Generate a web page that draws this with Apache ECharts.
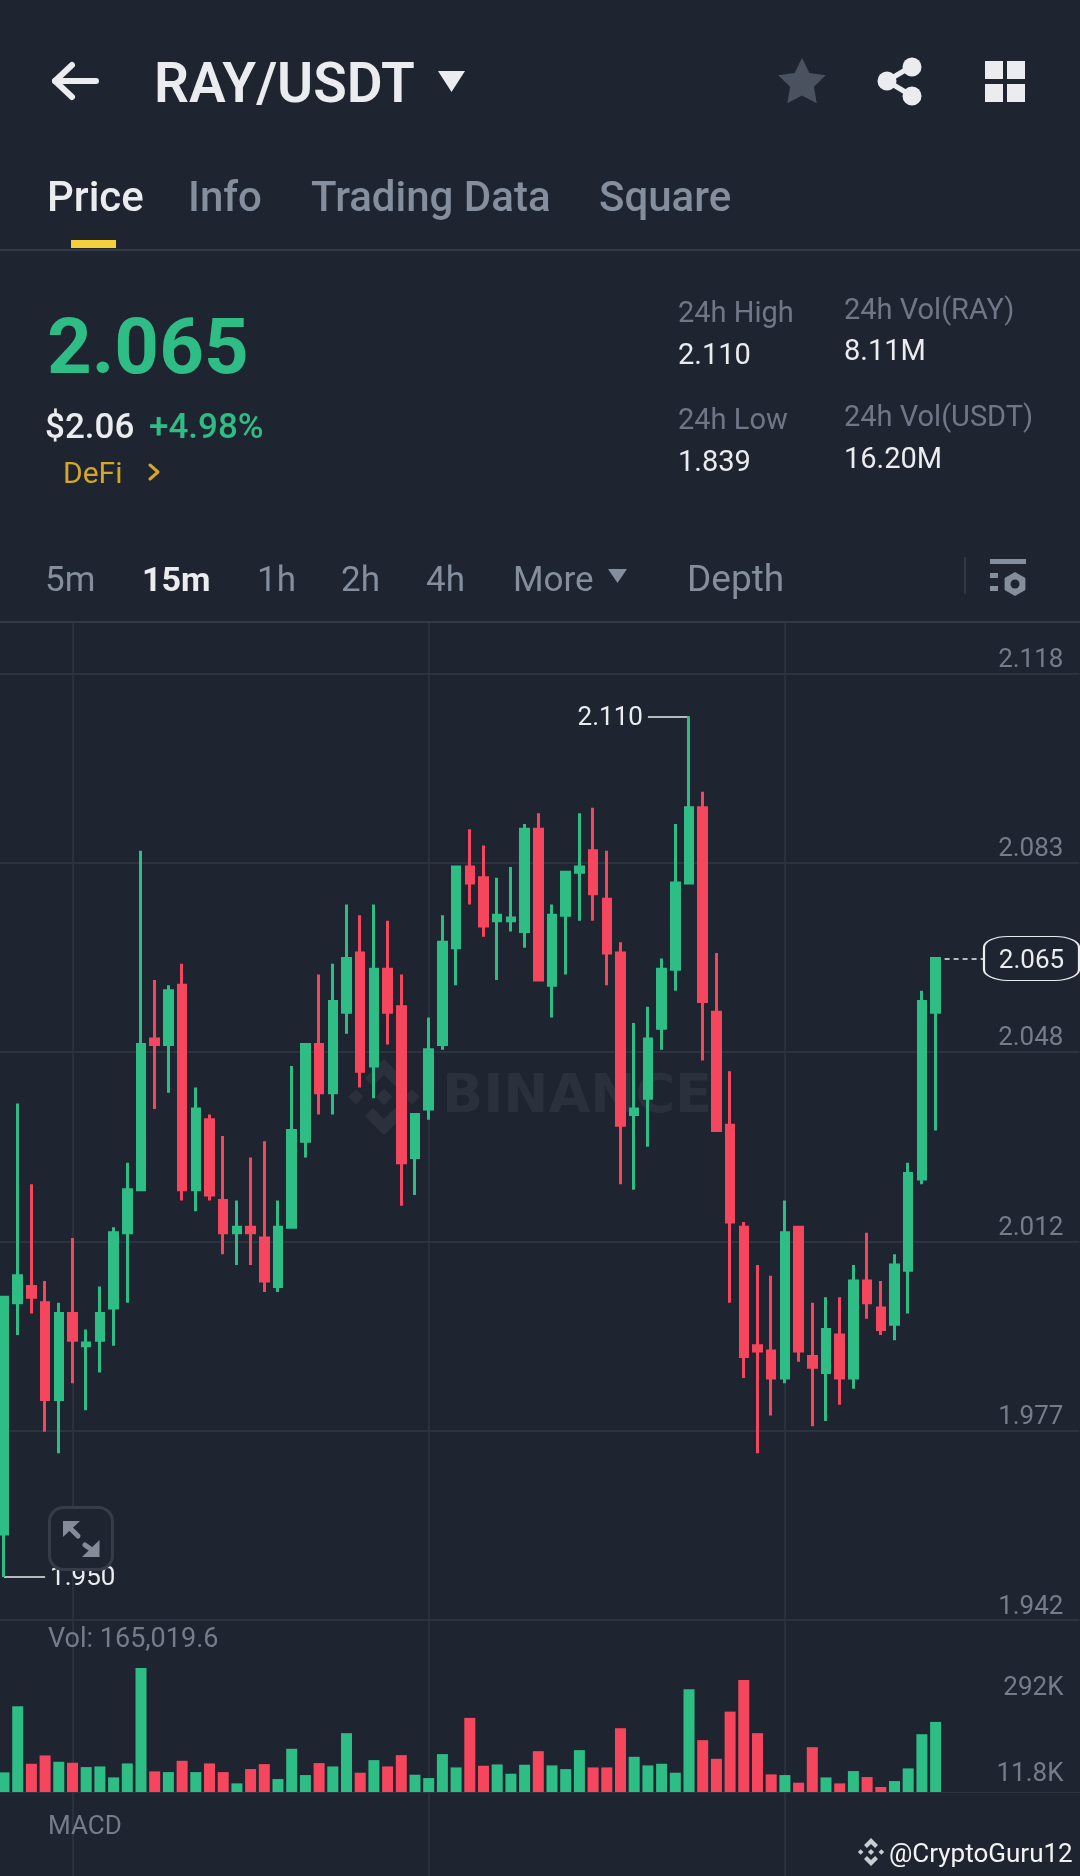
<!DOCTYPE html>
<html>
<head>
<meta charset="utf-8">
<style>
    html, body { margin: 0; padding: 0; background: #1f2530; }
    #chart { width: 1080px; height: 1876px; }
</style>
<script src="https://cdn.jsdelivr.net/npm/echarts@6/dist/echarts.min.js"></script>
</head>
<body>
<div id="chart"></div>
<script>
const opens = [1.958, 2.001, 2.004, 2.001, 1.983, 1.999, 1.993, 1.994, 2.000, 2.014, 2.022, 2.050, 2.049, 2.060, 2.022, 2.035, 2.020, 2.014, 2.015, 2.013, 2.004, 2.015, 2.031, 2.049, 2.040, 2.055, 2.066, 2.045, 2.063, 2.056, 2.028, 2.037, 2.049, 2.067, 2.082, 2.080, 2.072, 2.072, 2.070, 2.089, 2.060, 2.073, 2.081, 2.085, 2.076, 2.066, 2.036, 2.039, 2.052, 2.063, 2.079, 2.093, 2.055, 2.034, 2.015, 1.993, 1.992, 1.987, 2.015, 1.991, 1.988, 1.995, 1.987, 2.005, 2.000, 1.997, 2.007, 2.024, 2.055]
const closes = [2.002, 2.006, 2.002, 1.983, 1.999, 1.994, 1.9935, 1.999, 2.014, 2.022, 2.049, 2.049, 2.059, 2.022, 2.037, 2.021, 2.014, 2.015, 2.014, 2.005, 2.015, 2.033, 2.049, 2.040, 2.057, 2.065, 2.044, 2.063, 2.055, 2.027, 2.036, 2.048, 2.068, 2.082, 2.079, 2.071, 2.073, 2.0725, 2.089, 2.061, 2.073, 2.081, 2.082, 2.077, 2.066, 2.034, 2.037, 2.050, 2.063, 2.079, 2.093, 2.057, 2.033, 2.016, 1.991, 1.992, 1.987, 2.014, 1.992, 1.989, 1.996, 1.987, 2.005, 2.001, 1.996, 2.008, 2.025, 2.057, 2.065]
const lows = [1.950, 1.995, 1.999, 1.977, 1.973, 1.986, 1.981, 1.988, 1.993, 2.001, 2.022, 2.037, 2.040, 2.020, 2.018, 2.020, 2.010, 2.008, 2.008, 2.003, 2.003, 2.015, 2.028, 2.036, 2.036, 2.051, 2.041, 2.039, 2.049, 2.019, 2.021, 2.035, 2.048, 2.060, 2.075, 2.069, 2.061, 2.070, 2.067, 2.061, 2.054, 2.062, 2.072, 2.072, 2.060, 2.023, 2.022, 2.030, 2.048, 2.059, 2.079, 2.046, 2.033, 2.001, 1.987, 1.973, 1.980, 1.986, 1.990, 1.978, 1.979, 1.982, 1.985, 1.998, 1.995, 1.994, 1.999, 2.023, 2.033]
const highs = [2.002, 2.038, 2.023, 2.005, 2.001, 2.013, 1.996, 2.004, 2.015, 2.027, 2.085, 2.061, 2.060, 2.064, 2.041, 2.036, 2.032, 2.020, 2.028, 2.031, 2.020, 2.045, 2.049, 2.062, 2.064, 2.075, 2.073, 2.075, 2.072, 2.062, 2.036, 2.054, 2.073, 2.082, 2.089, 2.086, 2.080, 2.082, 2.090, 2.092, 2.075, 2.081, 2.092, 2.093, 2.085, 2.068, 2.053, 2.056, 2.065, 2.090, 2.110, 2.096, 2.066, 2.044, 2.016, 2.008, 2.006, 2.020, 2.015, 2.001, 2.002, 2.002, 2.008, 2.014, 2.005, 2.010, 2.027, 2.059, 2.065]
const volumes = [46200, 201900, 66500, 86100, 71200, 68900, 58700, 60200, 34400, 67300, 292000, 48500, 46900, 73500, 46900, 67300, 46900, 20300, 54000, 65700, 30500, 101700, 39900, 68100, 60200, 138500, 45400, 75100, 60200, 86800, 40700, 32900, 89200, 57900, 174500, 61800, 64900, 43000, 64200, 96200, 62600, 54000, 98600, 57900, 57900, 150200, 82900, 62600, 66500, 45400, 241800, 122100, 78200, 189300, 263700, 138500, 41500, 39900, 21900, 105600, 34400, 20300, 49300, 35200, 11800, 25800, 55600, 136100, 165019.6]

const priceMin = 1.942
const priceMax = 2.118
const priceStep = 0.0352
const volumeLabels = [11800, 292000]
const highIndex = 50
const lowIndex = 0
const gridCandles = [5, 31, 57]

const tabs = ['Price', 'Info', 'Trading Data', 'Square']
const intervals = ['5m', '15m', '1h', '2h', '4h', 'More', 'Depth']

const bg = '#1f2530'
const up = '#2ebd85'
const down = '#f6465d'
const white = '#eaecef'
const grey = '#848e9c'
const axisGrey = '#757c8a'
const line = '#323944'

const lastIndex = closes.length - 1
const lastPrice = closes[lastIndex]

// 79 slots wide, the chart leaves room on the right of the last candle
const slots = Array.from({length: 79}, (_, i) => String(i))
const wideSlots = Array.from({length: 80}, (_, i) => String(i))

const candleData = opens.map((o, i) => [o, closes[i], lows[i], highs[i]])
const volumeData = volumes.map((v, i) => ({
    value: v,
    itemStyle: {color: closes[i] >= opens[i] ? up : down}
}))

function text(str, x, y, size, fill, weight, extra) {
    return {
        type: 'text',
        z: 10,
        style: Object.assign({
            text: str, x: x, y: y, fill: fill,
            fontFamily: 'Roboto', fontSize: size, fontWeight: weight || 400,
            align: 'left', verticalAlign: 'middle'
        }, extra)
    }
}

function poly(points, fill, z) {
    return {type: 'polygon', z: z || 10, shape: {points: points}, style: {fill: fill}}
}

function stroke(points, color, width) {
    return {
        type: 'polyline', z: 10, shape: {points: points},
        style: {stroke: color, lineWidth: width, fill: null, lineCap: 'round', lineJoin: 'round'}
    }
}

function rect(x, y, w, h, fill) {
    return {type: 'rect', z: 10, shape: {x: x, y: y, width: w, height: h}, style: {fill: fill}}
}

function circle(cx, cy, r, fill) {
    return {type: 'circle', z: 10, shape: {cx: cx, cy: cy, r: r}, style: {fill: fill}}
}

function star(cx, cy, r, fill) {
    const pts = []
    for (let i = 0; i < 10; i++) {
        const rr = i % 2 ? r * 0.5 : r
        const a = -Math.PI / 2 + i * Math.PI / 5
        pts.push([cx + rr * Math.cos(a), cy + rr * Math.sin(a)])
    }
    return poly(pts, fill)
}

function hexagon(cx, cy, r, fill) {
    const pts = []
    for (let i = 0; i < 6; i++) {
        const a = -Math.PI / 2 + i * Math.PI / 3
        pts.push([cx + r * Math.cos(a), cy + r * Math.sin(a)])
    }
    return poly(pts, fill)
}

function logo(cx, cy, r, fill, z) {
    const p = (list) => poly(list.map(([x, y]) => [cx + x * r, cy + y * r]), fill, z)
    return [
        p([[0, -0.22], [0.22, 0], [0, 0.22], [-0.22, 0]]),
        p([[-0.74, -0.2], [-0.54, 0], [-0.74, 0.2], [-0.94, 0]]),
        p([[0.74, -0.2], [0.94, 0], [0.74, 0.2], [0.54, 0]]),
        p([[0, -1], [0.5, -0.5], [0.29, -0.29], [0, -0.58], [-0.29, -0.29], [-0.5, -0.5]]),
        p([[0, 1], [-0.5, 0.5], [-0.29, 0.29], [0, 0.58], [0.29, 0.29], [0.5, 0.5]])
    ]
}

const tabX = [47, 188, 311, 599]
const intervalX = [45, 142, 257, 341, 426, 513, 687]
const intervalSize = [35, 34, 35, 35, 35, 35, 37]

const chrome = [
    // watermark sits under the candles
    ...logo(384, 1097, 38, '#2a313c', 1),
    {
        type: 'text', z: 1,
        style: {
            text: 'BINANCE', x: 442, y: 1098, fill: '#2a313c', fontFamily: 'DejaVu Sans',
            fontSize: 54, fontWeight: 700, verticalAlign: 'middle'
        }
    },

    // top bar
    stroke([[72, 65], [55, 81], [72, 97]], white, 6),
    stroke([[55, 81], [96, 81]], white, 6),
    text('RAY/USDT', 154, 88, 55, white, 600),
    poly([[438, 71], [465, 71], [451.5, 92]], white),
    star(802, 83, 25, '#4a5260'),
    stroke([[912, 66], [887, 81], [912, 96]], white, 5),
    circle(912, 67, 9.5, white),
    circle(887, 81, 9.5, white),
    circle(912, 96, 9.5, white),
    rect(985, 61, 18, 18, white),
    rect(1007, 61, 18, 18, white),
    rect(985, 84, 18, 18, white),
    rect(1007, 84, 18, 18, white),

    // tabs
    ...tabs.map((t, i) => text(t, tabX[i], 200, 42, i === 0 ? white : grey, 500)),
    rect(71, 240, 45, 8, '#f5cf3a'),
    rect(0, 249, 1080, 2, line),

    // price block
    text('2.065', 47, 353, 78, up, 700),
    text('$2.06', 45, 429, 35, white, 500),
    text('+4.98%', 149, 429, 35, up, 500),
    text('DeFi', 63, 475, 30, '#d4a72c'),
    stroke([[150, 465], [158, 472], [150, 479]], '#d4a72c', 3),
    text('24h High', 678, 315, 29, '#6f7787'),
    text('2.110', 678, 357, 29, white),
    text('24h Vol(RAY)', 844, 312, 29, '#6f7787'),
    text('8.11M', 844, 353, 29, white),
    text('24h Low', 678, 422, 29, '#6f7787'),
    text('1.839', 678, 464, 29, white),
    text('24h Vol(USDT)', 844, 419, 29, '#6f7787'),
    text('16.20M', 844, 461, 29, white),

    // interval row
    ...intervals.map((t, i) => text(t, intervalX[i], 582, intervalSize[i], i === 1 ? white : grey, i === 1 ? 700 : 400)),
    poly([[608, 569], [627, 569], [617.5, 583]], grey),
    rect(964, 557, 2, 37, line),
    rect(990, 559, 36, 5, grey),
    rect(990, 573, 8, 5, grey),
    rect(990, 586, 8, 5, grey),
    hexagon(1015, 584, 12, grey),
    circle(1015, 584, 4.5, bg),
    rect(0, 621, 1080, 2, line),

    // expand button, it hides the top of the low label
    {
        type: 'rect', z: 10,
        shape: {x: 49.5, y: 1507.5, width: 63, height: 62, r: 14},
        style: {fill: bg, stroke: '#363d49', lineWidth: 3}
    },
    poly([[63, 1521], [80, 1521], [63, 1537]], '#858c99'),
    stroke([[70, 1528], [78, 1536]], '#858c99', 5),
    poly([[99.5, 1540], [99.5, 1557], [82, 1557]], '#858c99'),
    stroke([[85, 1545], [92, 1550]], '#858c99', 5),

    // indicator captions
    text('Vol: 165,019.6', 48, 1640, 27, axisGrey),
    text('MACD', 48, 1827, 26, axisGrey),

    // author tag
    ...logo(871, 1852, 14, '#c9ccd1'),
    text('@CryptoGuru12', 889, 1855, 26, '#f2f3f5')
]

const chart = echarts.init(document.getElementById('chart'))

chart.setOption({
    animation: false,
    backgroundColor: bg,
    graphic: chrome,
    grid: [
        {left: -2.85, top: 673.3, width: 1082.3, height: 946.7, outerBoundsMode: 'none'},
        {left: -2.85, top: 1668, width: 1082.3, height: 124, outerBoundsMode: 'none'},
        {left: 4, top: 623, width: 1082.3, height: 1253, outerBoundsMode: 'none'}
    ],
    xAxis: [
        {
            type: 'category', gridIndex: 0, data: slots,
            axisLine: {show: false}, axisTick: {show: false}, axisLabel: {show: false}
        },
        {
            type: 'category', gridIndex: 1, data: slots,
            axisLine: {lineStyle: {color: '#2f3641', width: 1}},
            axisTick: {show: false}, axisLabel: {show: false}
        },
        {
            // only here for the vertical grid lines, which run through all the panels
            type: 'category', gridIndex: 2, data: wideSlots, boundaryGap: false,
            axisLine: {show: false}, axisTick: {show: false}, axisLabel: {show: false},
            splitLine: {
                show: true,
                interval: (i) => gridCandles.includes(i),
                lineStyle: {color: '#2f3641', width: 1.5}
            }
        }
    ],
    yAxis: [
        {
            type: 'value', gridIndex: 0, position: 'right',
            min: priceMin, max: priceMax, interval: priceStep,
            axisLine: {show: false}, axisTick: {show: false},
            splitLine: {lineStyle: {color: '#323944', width: 1.5}},
            axisLabel: {
                inside: true, margin: 16, fontFamily: 'Roboto', fontSize: 26,
                color: axisGrey, verticalAlign: 'bottom',
                formatter: (v) => v.toFixed(3)
            }
        },
        {
            type: 'value', gridIndex: 1, position: 'right', min: 0, max: 292000,
            axisLine: {show: false}, axisTick: {show: false}, splitLine: {show: false},
            axisLabel: {
                inside: true, margin: 16, customValues: volumeLabels,
                formatter: (v) => (v >= 100000 ? '{top|' + (v / 1000) + 'K}' : '{bot|' + (v / 1000) + 'K}'),
                rich: {
                    top: {fontFamily: 'Roboto', fontSize: 26, color: axisGrey, padding: [40, 0, 0, 0]},
                    bot: {fontFamily: 'Roboto', fontSize: 26, color: axisGrey, padding: [0, 0, 24, 0]}
                }
            }
        },
        {type: 'value', gridIndex: 2, show: false}
    ],
    series: [
        {
            type: 'candlestick',
            xAxisIndex: 0,
            yAxisIndex: 0,
            barWidth: 8,
            data: candleData,
            itemStyle: {color: up, color0: down, borderColor: up, borderColor0: down, borderWidth: 3},
            markLine: {
                silent: true,
                z: 1,
                symbol: 'none',
                animation: false,
                data: [
                    [
                        {
                            coord: [highIndex, highs[highIndex]],
                            lineStyle: {color: white, width: 1.5, type: 'solid'},
                            label: {
                                show: true, position: 'end', distance: 5, offset: [0, 2], color: white,
                                fontFamily: 'Roboto', fontSize: 26, formatter: highs[highIndex].toFixed(3)
                            }
                        },
                        {coord: [highIndex - 3, highs[highIndex]]}
                    ],
                    [
                        {
                            coord: [lowIndex, lows[lowIndex]],
                            lineStyle: {color: white, width: 1.5, type: 'solid'},
                            label: {
                                show: true, position: 'end', distance: 5, offset: [0, 2], color: white,
                                fontFamily: 'Roboto', fontSize: 26, formatter: lows[lowIndex].toFixed(3)
                            }
                        },
                        {coord: [lowIndex + 3, lows[lowIndex]]}
                    ],
                    [
                        {
                            coord: [lastIndex, lastPrice],
                            lineStyle: {color: white, width: 1.5, type: [5, 4]},
                            label: {show: false}
                        },
                        {coord: [lastIndex + 7, lastPrice]}
                    ]
                ]
            },
            markPoint: {
                silent: true,
                animation: false,
                data: [{
                    coord: [lastIndex + 7, lastPrice],
                    symbol: 'roundRect',
                    symbolSize: [95, 44],
                    itemStyle: {color: bg, borderColor: white, borderWidth: 1.5},
                    label: {
                        show: true, position: 'inside', offset: [0, 3], color: white,
                        fontFamily: 'Roboto', fontSize: 26, formatter: lastPrice.toFixed(3)
                    }
                }]
            }
        },
        {
            type: 'bar',
            xAxisIndex: 1,
            yAxisIndex: 1,
            barWidth: 11,
            data: volumeData
        }
    ]
})
</script>
</body>
</html>
